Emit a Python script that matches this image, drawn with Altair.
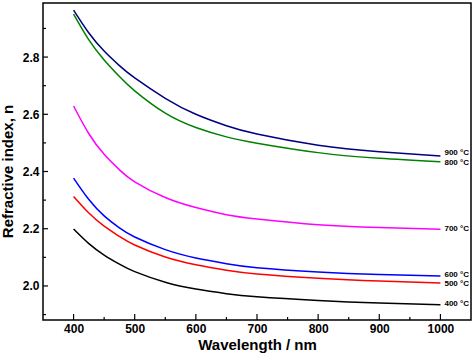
import altair as alt
import pandas as pd

# Wavelength grid (nm) and refractive index of films annealed at each temperature
wavelength = [400, 425, 450, 475, 500, 550, 600, 650, 700, 800, 900, 1000]
n_400 = [2.199, 2.148, 2.108, 2.076, 2.050, 2.013, 1.989, 1.973, 1.962, 1.949, 1.940, 1.934]
n_500 = [2.313, 2.255, 2.209, 2.173, 2.143, 2.101, 2.074, 2.055, 2.042, 2.027, 2.017, 2.010]
n_600 = [2.377, 2.302, 2.245, 2.203, 2.171, 2.127, 2.098, 2.078, 2.064, 2.049, 2.040, 2.035]
n_700 = [2.629, 2.532, 2.460, 2.406, 2.364, 2.309, 2.274, 2.249, 2.234, 2.214, 2.204, 2.198]
n_800 = [2.950, 2.860, 2.790, 2.732, 2.682, 2.604, 2.554, 2.521, 2.499, 2.466, 2.446, 2.434]
n_900 = [2.964, 2.884, 2.821, 2.770, 2.727, 2.656, 2.600, 2.560, 2.531, 2.492, 2.469, 2.454]

labels = ["400 °C", "500 °C", "600 °C", "700 °C", "800 °C", "900 °C"]
colors = ["#000000", "#ff0000", "#0000ff", "#ff00ff", "#008000", "#000080"]
series = [n_400, n_500, n_600, n_700, n_800, n_900]

x_major = [400, 500, 600, 700, 800, 900, 1000]
x_minor = [450, 550, 650, 750, 850, 950]
y_major = [2.0, 2.2, 2.4, 2.6, 2.8]
y_minor = [1.9, 2.1, 2.3, 2.5, 2.7, 2.9]

rows = []
for lab, vals in zip(labels, series):
    for w, n in zip(wavelength, vals):
        rows.append({"wavelength": w, "n": n, "temp": lab})
df = pd.DataFrame(rows)

ends = pd.DataFrame({
    "wavelength": [wavelength[-1]] * len(labels),
    "n": [s[-1] for s in series],
    "temp": labels,
})

FONT = "Liberation Sans"
W, H = 428, 317

x_scale = alt.Scale(domain=[350, 1050], nice=False, zero=False)
y_scale = alt.Scale(domain=[1.881, 2.989], nice=False, zero=False)
color_scale = alt.Scale(domain=labels, range=colors)

x_axis = alt.Axis(
    values=x_major, format="d", tickSize=0, domain=False, grid=False,
    labelFont=FONT, labelFontSize=12, labelFontWeight="bold", labelColor="black",
    labelPadding=3,
    title="Wavelength / nm", titleFont=FONT, titleFontSize=15, titleFontWeight="bold",
    titleColor="black", titleX=W / 2, titleY=29, titleAlign="center",
    titleBaseline="alphabetic",
)
y_axis = alt.Axis(
    values=y_major, format=".1f", tickSize=0, domain=False, grid=False,
    labelFont=FONT, labelFontSize=12, labelFontWeight="bold", labelColor="black",
    labelPadding=4,
    title="Refractive index, n", titleFont=FONT, titleFontSize=15, titleFontWeight="bold",
    titleColor="black", titleX=-31, titleY=168, titleAlign="center",
    titleBaseline="alphabetic", titleAngle=-90,
)

lines = alt.Chart(df).mark_line(strokeWidth=1.5, interpolate="natural").encode(
    x=alt.X("wavelength:Q", scale=x_scale, axis=x_axis),
    y=alt.Y("n:Q", scale=y_scale, axis=y_axis),
    color=alt.Color("temp:N", scale=color_scale, legend=None),
    detail="temp:N",
)

# end-of-curve labels, each nudged a pixel or so off its curve's end
nudge = {"900 °C": -3, "800 °C": 1, "600 °C": -1, "500 °C": 1, "400 °C": -1}
text_layers = []
for lab in labels:
    text_layers.append(
        alt.Chart(ends[ends["temp"] == lab]).mark_text(
            align="left", baseline="middle", dx=4, dy=nudge.get(lab, 0),
            font=FONT, fontSize=8, fontWeight="bold", color="black",
        ).encode(
            x=alt.X("wavelength:Q", scale=x_scale, axis=x_axis),
            y=alt.Y("n:Q", scale=y_scale, axis=y_axis),
            text="temp:N",
        )
    )

# inward tick marks along the bottom and left edges
def xticks(vals, length):
    return alt.Chart(pd.DataFrame({"wavelength": vals})).mark_rule(color="black", strokeWidth=1.2).encode(
        x=alt.X("wavelength:Q", scale=x_scale, axis=x_axis),
        y=alt.value(H), y2=alt.value(H - length),
    )

def yticks(vals, length):
    return alt.Chart(pd.DataFrame({"n": vals})).mark_rule(color="black", strokeWidth=1.2).encode(
        y=alt.Y("n:Q", scale=y_scale, axis=y_axis),
        x=alt.value(0), x2=alt.value(length),
    )

chart = alt.layer(
    lines,
    *text_layers,
    xticks(x_major, 6), xticks(x_minor, 3),
    yticks(y_major, 5), yticks(y_minor, 3),
).properties(
    width=W, height=H,
    padding={"left": 43, "top": 3, "right": 3, "bottom": 33},
    autosize="none",
    background="white",
).configure_view(
    stroke="black", strokeWidth=1.5,
)

chart.save("out.html", embed_options={"renderer": "svg", "actions": False})
